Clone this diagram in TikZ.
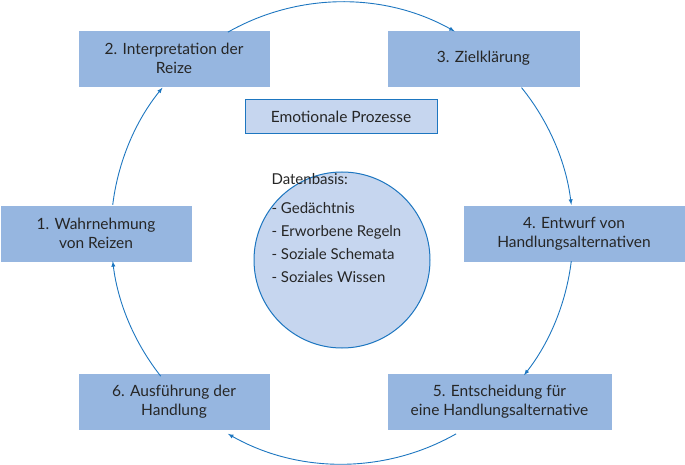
\documentclass[tikz,border=0pt]{standalone}
\usepackage{fontspec}
\setmainfont{Lato}
\usetikzlibrary{calc}
\definecolor{boxblue}{HTML}{96B6E0}
\definecolor{lightblue}{HTML}{C6D6EF}
\definecolor{lineblue}{HTML}{1D76C0}
\begin{document}
\begin{tikzpicture}[x=1pt,y=1pt,>=latex,
  stage/.style={rectangle, fill=boxblue, draw=white, line width=0.6pt,
    minimum height=57pt, align=center, font=\fontsize{15.5}{19}\selectfont, text=black!85},
  loopline/.style={->, draw=lineblue, line width=0.9pt}]
\useasboundingbox (0,0) rectangle (685,464);

% define the steps of the cycle
  \node[stage, minimum width=192pt] (s1) at (96,230.5)  {1. Wahrnehmung\\von Reizen};
  \node[stage, minimum width=192pt] (s2) at (174,405.5) {2. Interpretation der\\Reize};
  \node[stage, minimum width=193pt] (s3) at (483.5,405.5) {3. Zielklärung};
  \node[stage, minimum width=222pt] (s4) at (574,230.5) {4. Entwurf von\\Handlungsalternativen};
  \node[stage, minimum width=225pt] (s5) at (499.5,62.5) {5. Entscheidung für\\eine Handlungsalternative};
  \node[stage, minimum width=192pt] (s6) at (174,62.5) {6. Ausführung der\\Handlung};

% centre part
  \node[rectangle, fill=lightblue, draw=lineblue, line width=1pt, minimum width=192pt,
    minimum height=34pt, font=\fontsize{15.5}{19}\selectfont, text=black!85] (emo) at (341,347) {Emotionale Prozesse};
  \node[circle, fill=lightblue, draw=lineblue, line width=1pt, minimum size=176pt] (db) at (342,204) {};
  \node[anchor=north west, align=left, font=\fontsize{15}{23}\selectfont, text=black!85]
    (dbtext) at (268,294) {Datenbasis:\\[6pt]- Gedächtnis\\- Erworbene Regeln\\- Soziale Schemata\\- Soziales Wissen};

% define the links
  \coordinate (c) at (342,231);
  \draw[loopline] ($(c)+(119.6:231)$) arc[start angle=119.6, end angle=60.8, radius=231];
  \draw[loopline] ($(c)+(39:231)$) arc[start angle=39, end angle=7, radius=231];
  \draw[loopline] ($(c)+(-7:231)$) arc[start angle=-7, end angle=-38, radius=231];
  \draw[loopline] ($(c)+(-60.4:231)$) arc[start angle=-60.4, end angle=-119.6, radius=231];
  \draw[loopline] ($(c)+(-141.7:231)$) arc[start angle=-141.7, end angle=-173, radius=231];
  \draw[loopline] ($(c)+(173:231)$) arc[start angle=173, end angle=141, radius=231];
\end{tikzpicture}
\end{document}
